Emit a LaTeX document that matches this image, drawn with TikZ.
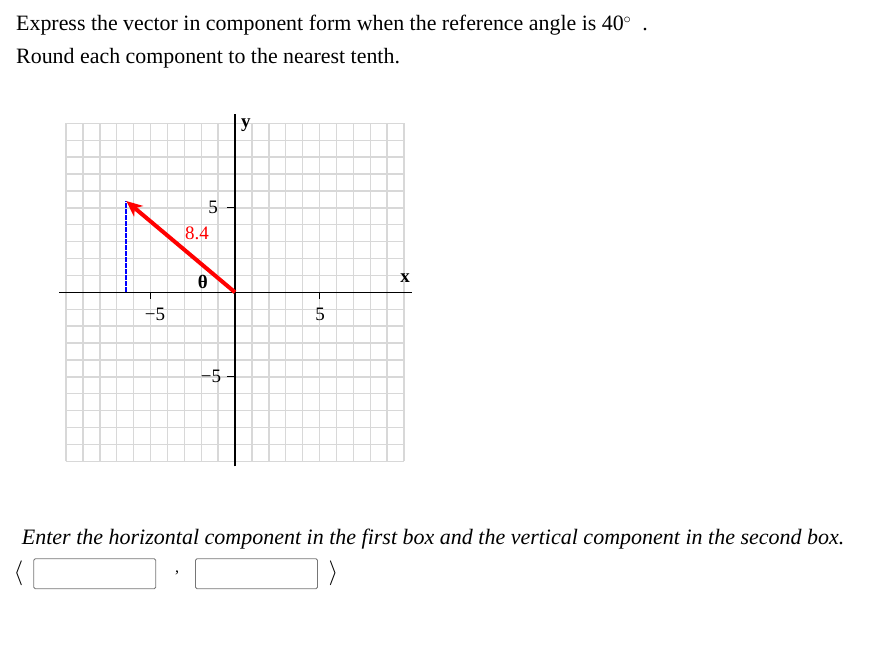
\documentclass[tikz,border=0pt]{standalone}
\usepackage{fontspec}
\setmainfont{Liberation Serif}
\usetikzlibrary{arrows.meta}
\definecolor{gridgray}{HTML}{D8D8D8}
\definecolor{boxgray}{HTML}{767676}
\begin{document}
\begin{tikzpicture}[x=1pt,y=-1pt,
    gridline/.style={draw=gridgray,line width=1.4pt},
    axisline/.style={draw=black,line width=1.2pt},
    ticklab/.style={font=\fontsize{19}{19}\selectfont,inner sep=0pt},
    axislab/.style={font=\bfseries\fontsize{19}{19}\selectfont,inner sep=0pt},
    ansbox/.style={draw=boxgray,line width=0.9pt,rounded corners=1.5pt,
        minimum width=122pt,minimum height=30pt,inner sep=0pt,anchor=north west}]
    \useasboundingbox (0,0) rectangle (884,654);

    % question text
    \node[anchor=base west,inner sep=0pt,font=\fontsize{21.9}{24}\selectfont] (q1) at (16,30.7)
        {Express the vector in component form when the reference angle is 40$^{\circ}$\ \ .};
    \node[anchor=base west,inner sep=0pt,font=\fontsize{21.9}{24}\selectfont] (q2) at (16,63.3)
        {Round each component to the nearest tenth.};

    % the graph, in graph units
    \begin{scope}[shift={(235,292.3)},x=16.9pt,y=16.9pt]
        \foreach \k in {-10,...,10} {
            \path[gridline] (\k,-10) -- (\k,10);
            \path[gridline] (-10,\k) -- (10,\k);
        }
        \coordinate (xl) at (-10.4,0);
        \coordinate (xr) at (10.5,0);
        \coordinate (yb) at (0,-10.3);
        \coordinate (yt) at (0,10.55);
        \path[axisline] (xl) -- (xr);
        \path[axisline] (yb) -- (yt);
        \draw[line width=1pt] (-5,0) -- (-5,-0.38);
        \draw[line width=1pt] (5,0) -- (5,-0.38);
        \draw[line width=1pt] (0,5) -- (-0.45,5);
        \draw[line width=1pt] (0,-5) -- (-0.45,-5);
        \node[ticklab] (xm5) at (-4.73,-1.28) {−5};
        \node[ticklab] (xp5) at (5.03,-1.28) {5};
        \node[ticklab] (yp5) at (-1.3,5) {5};
        \node[ticklab] (ym5) at (-1.42,-5) {−5};
        \node[axislab] (xname) at (10.06,0.84) {x};
        \node[axislab] (yname) at (0.65,9.9) {y};

        \coordinate (O) at (0,0);
        \coordinate (tip) at (-6.43,5.40);
        \coordinate (foot) at (-6.43,0);
        \path[draw=blue,line width=2pt,dash pattern=on 5pt off 1pt] (foot) -- (tip);
        \path[draw=red,line width=4pt,-{Stealth[length=16pt,width=14pt,inset=5pt]}] (O) -- (tip);
        \node[text=red,font=\fontsize{19}{19}\selectfont,inner sep=0pt] (mag) at (-2.25,3.47) {8.4};
        \node[font=\bfseries\fontsize{19}{19}\selectfont,inner sep=0pt] (theta) at (-1.9,0.62) {θ};
    \end{scope}

    % answer line
    \node[anchor=base west,inner sep=0pt,font=\itshape\fontsize{22}{24}\selectfont] (hint) at (21.7,544)
        {Enter the horizontal component in the first box and the vertical component in the second box.};
    \node[inner sep=0pt,font=\fontsize{24}{24}\selectfont] (lang) at (18.5,573) {$\langle$};
    \node[ansbox] (box1) at (33.3,558.3) {};
    \node[inner sep=0pt,font=\fontsize{16}{16}\selectfont] (comma) at (177,573) {,};
    \node[ansbox] (box2) at (195,558.3) {};
    \node[inner sep=0pt,font=\fontsize{24}{24}\selectfont] (rang) at (333.5,573) {$\rangle$};
\end{tikzpicture}
\end{document}
